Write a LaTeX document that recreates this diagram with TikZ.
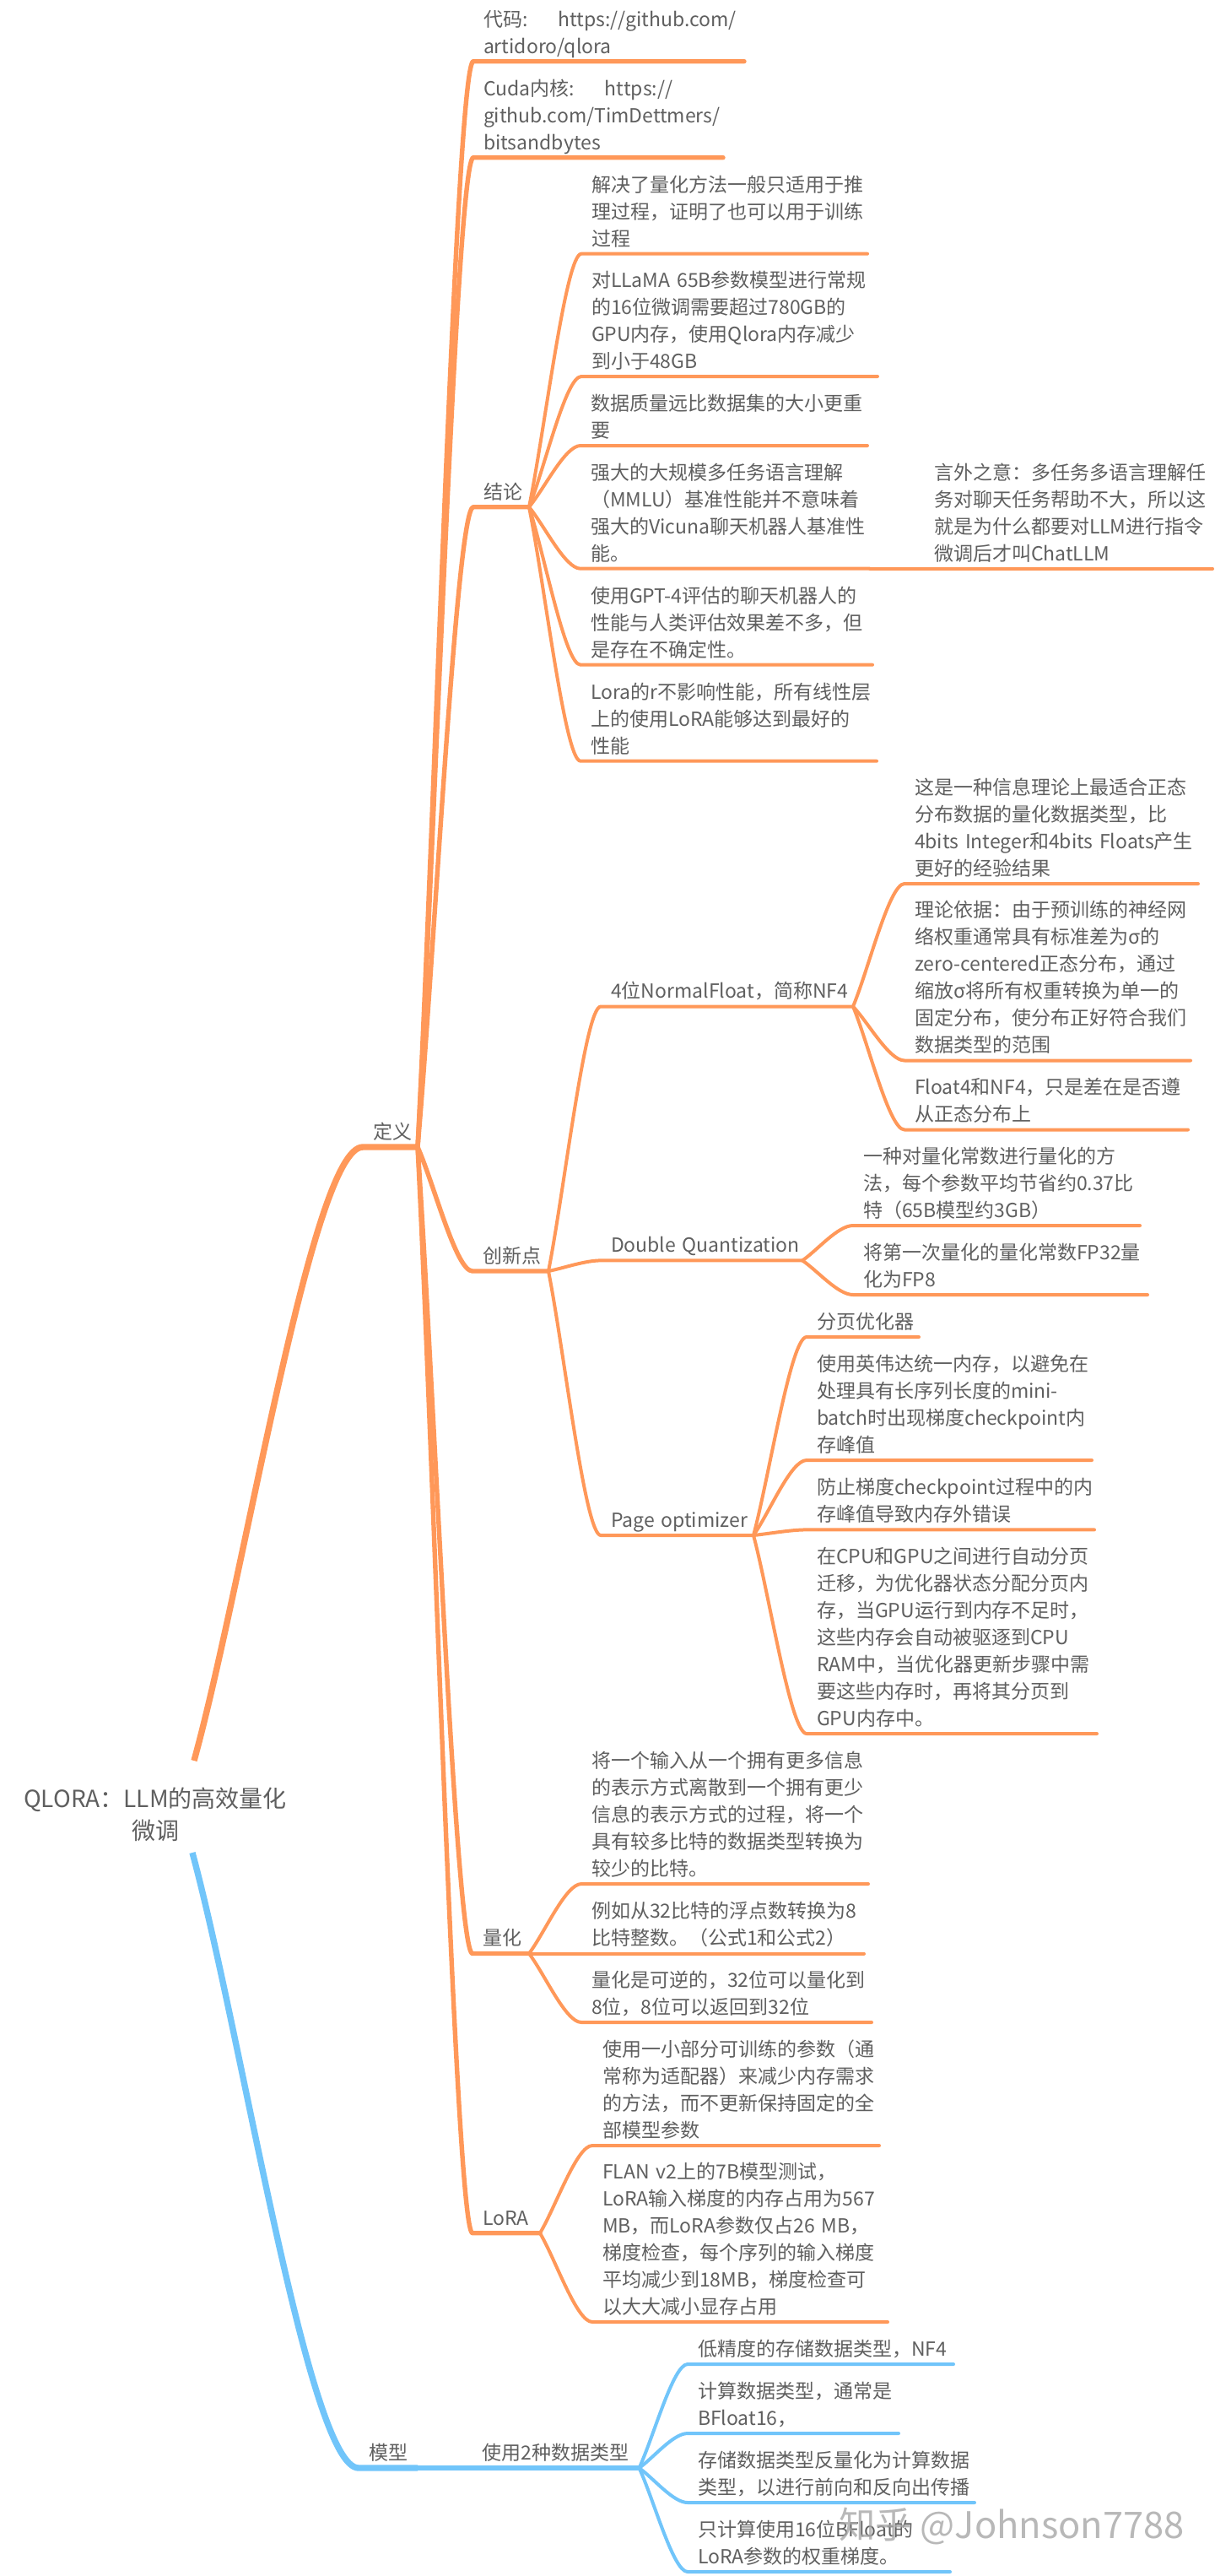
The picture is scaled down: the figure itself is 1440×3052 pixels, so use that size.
\documentclass[tikz,border=0pt]{standalone}
\usepackage{fontspec}
\setmainfont{Noto Sans CJK SC}
\usetikzlibrary{calc}

\definecolor{orangeline}{HTML}{FF9859}
\definecolor{blueline}{HTML}{71C5FA}
\definecolor{inktext}{HTML}{5F5F5F}

\tikzset{
  topic/.style={anchor=south west, inner sep=0pt, outer sep=0pt,
    text=inktext, font=\fontsize{11.5}{16}\selectfont,
    execute at begin node={\leftskip=6pt\rightskip=0pt plus 1fil\relax},
    execute at end node={\strut}},
  fan/.style={to path={let \p1=(\tikztostart),\p2=(\tikztotarget) in
    .. controls ({\x1+0.3*(\x2-\x1)},{\y1+0.3*(\y2-\y1)}) and ({\x1+0.7*(\x2-\x1)},{\y2}) .. (\tikztotarget) \tikztonodes}},
  trunk/.style={line width=3.7pt, line join=round},
  limb/.style={line width=2.7pt, line cap=round, line join=round},
  twig/.style={line width=2pt, line cap=round, line join=round}
}

\begin{document}
\begin{tikzpicture}[x=0.5pt,y=-0.5pt]
\useasboundingbox (0,0) rectangle (1440,3052);

% Root
\node[align=center, inner sep=0pt, text=inktext, font=\fontsize{14}{19}\selectfont] (root) at (184,2150) {QLORA：LLM的高效量化\\微调};
\coordinate (roottop) at (230,2086);
\coordinate (rootbottom) at (228,2195);

% Definition side
\node[topic, text width=32.5pt] (define) at (430,1359) {定义};
\node[topic, text width=160.5pt] (code) at (561,72.7) {代码:\hspace{18pt}https://github.com/\\artidoro/qlora};
\node[topic, text width=148pt] (cuda) at (561,186.7) {Cuda内核:\hspace{18pt}https://\\github.com/TimDettmers/\\bitsandbytes};
\node[topic, text width=33pt] (conclusion) at (561,600.7) {结论};
\node[topic, text width=45pt] (innovate) at (560,1506) {创新点};
\node[topic, text width=33.5pt] (quant) at (560,2314.5) {量化};
\node[topic, text width=40pt] (lora) at (560,2645.7) {LoRA};

% Conclusion leaves
\node[topic, text width=169.5pt] (concA) at (689,300.7) {解决了量化方法一般只适用于推\\理过程，证明了也可以用于训练\\过程};
\node[topic, text width=175.5pt] (concB) at (689,446) {对LLaMA 65B参数模型进行常规\\的16位微调需要超过780GB的\\GPU内存，使用Qlora内存减少\\到小于48GB};
\node[topic, text width=170pt] (concC) at (688,528) {数据质量远比数据集的大小更重\\要};
\node[topic, text width=171.5pt] (concD) at (688,673.7) {强大的大规模多任务语言理解\\（MMLU）基准性能并不意味着\\强大的Vicuna聊天机器人基准性\\能。};
\node[topic, text width=171pt] (hint) at (1095,673.7) {言外之意：多任务多语言理解任\\务对聊天任务帮助不大，所以这\\就是为什么都要对LLM进行指令\\微调后才叫ChatLLM};
\node[topic, text width=173pt] (concE) at (688,787.7) {使用GPT-4评估的聊天机器人的\\性能与人类评估效果差不多，但\\是存在不确定性。};
\node[topic, text width=175.5pt] (concF) at (688,901.7) {Lora的r不影响性能，所有线性层\\上的使用LoRA能够达到最好的\\性能};

% Innovation branches
\node[topic, text width=149.5pt] (nf) at (712,1192.5) {4位NormalFloat，简称NF4};
\node[topic, text width=119.5pt] (dq) at (712,1493.4) {Double Quantization};
\node[topic, text width=90.5pt] (page) at (712,1819) {Page optimizer};

% NF4 leaves
\node[topic, text width=174pt] (nfA) at (1072,1047) {这是一种信息理论上最适合正态\\分布数据的量化数据类型，比\\4bits Integer和4bits Floats产生\\更好的经验结果};
\node[topic, text width=169.5pt] (nfB) at (1072,1256.5) {理论依据：由于预训练的神经网\\络权重通常具有标准差为σ的\\zero-centered正态分布，通过\\缩放σ将所有权重转换为单一的\\固定分布，使分布正好符合我们\\数据类型的范围};
\node[topic, text width=168pt] (nfC) at (1072,1338.5) {Float4和NF4，只是差在是否遵\\从正态分布上};

% Double quantization leaves
\node[topic, text width=170pt] (dqA) at (1011,1452) {一种对量化常数进行量化的方\\法，每个参数平均节省约0.37比\\特（65B模型约3GB）};
\node[topic, text width=174.5pt] (dqB) at (1011,1534) {将第一次量化的量化常数FP32量\\化为FP8};

% Page optimizer leaves
\node[topic, text width=66.5pt] (pageA) at (956,1584) {分页优化器};
\node[topic, text width=169pt] (pageB) at (956,1730) {使用英伟达统一内存，以避免在\\处理具有长序列长度的mini-\\batch时出现梯度checkpoint内\\存峰值};
\node[topic, text width=170.5pt] (pageC) at (956,1812.4) {防止梯度checkpoint过程中的内\\存峰值导致内存外错误};
\node[topic, text width=172pt] (pageD) at (956,2054) {在CPU和GPU之间进行自动分页\\迁移，为优化器状态分配分页内\\存，当GPU运行到内存不足时，\\这些内存会自动被驱逐到CPU\\RAM中，当优化器更新步骤中需\\要这些内存时，再将其分页到\\GPU内存中。};

% Quantization leaves
\node[topic, text width=170pt] (quantA) at (689,2232) {将一个输入从一个拥有更多信息\\的表示方式离散到一个拥有更少\\信息的表示方式的过程，将一个\\具有较多比特的数据类型转换为\\较少的比特。};
\node[topic, text width=167.5pt] (quantB) at (689,2314.5) {例如从32比特的浮点数转换为8\\比特整数。（公式1和公式2）};
\node[topic, text width=172pt] (quantC) at (689,2396) {量化是可逆的，32位可以量化到\\8位，8位可以返回到32位};

% LoRA leaves
\node[topic, text width=170pt] (loraA) at (702,2542) {使用一小部分可训练的参数（通\\常称为适配器）来减少内存需求\\的方法，而不更新保持固定的全\\部模型参数};
\node[topic, text width=175pt] (loraB) at (702,2751) {FLAN v2上的7B模型测试，\\LoRA输入梯度的内存占用为567\\MB，而LoRA参数仅占26 MB，\\梯度检查，每个序列的输入梯度\\平均减少到18MB，梯度检查可\\以大大减小显存占用};

% Model side
\node[topic, text width=35pt] (model) at (425,2924) {模型};
\node[topic, text width=99pt] (datatype) at (559.5,2924) {使用2种数据类型};
\node[topic, text width=157.5pt] (typeA) at (815,2801) {低精度的存储数据类型，NF4};
\node[topic, text width=125pt] (typeB) at (815,2883) {计算数据类型，通常是\\BFloat16，};
\node[topic, text width=170pt] (typeC) at (815,2965) {存储数据类型反量化为计算数据\\类型，以进行前向和反向出传播};
\node[topic, text width=155.5pt] (typeD) at (815,3047) {只计算使用16位BFloat的\\LoRA参数的权重梯度。};

% Watermark
\node[inner sep=0pt, text=black!35, opacity=0.8, font=\fontsize{21.7}{22}\selectfont] (mark) at (1199,2993) {知乎 @Johnson7788};

% Orange connectors
\draw[trunk, orangeline] (roottop) to[fan] (define.south west) -- (define.south east);
\foreach \kid in {code,cuda,conclusion,innovate,quant,lora}
  \draw[limb, orangeline] (define.south east) to[fan] (\kid.south west) -- (\kid.south east);
\foreach \kid in {concA,concB,concC,concD,concE,concF}
  \draw[twig, orangeline] (conclusion.south east) to[fan] (\kid.south west) -- (\kid.south east);
\draw[twig, orangeline] (concD.south east) -- (hint.south west) -- (hint.south east);
\foreach \kid in {nf,dq,page}
  \draw[twig, orangeline] (innovate.south east) to[fan] (\kid.south west) -- (\kid.south east);
\foreach \kid in {nfA,nfB,nfC}
  \draw[twig, orangeline] (nf.south east) to[fan] (\kid.south west) -- (\kid.south east);
\foreach \kid in {dqA,dqB}
  \draw[twig, orangeline] (dq.south east) to[fan] (\kid.south west) -- (\kid.south east);
\foreach \kid in {pageA,pageB,pageC,pageD}
  \draw[twig, orangeline] (page.south east) to[fan] (\kid.south west) -- (\kid.south east);
\foreach \kid in {quantA,quantB,quantC}
  \draw[twig, orangeline] (quant.south east) to[fan] (\kid.south west) -- (\kid.south east);
\foreach \kid in {loraA,loraB}
  \draw[twig, orangeline] (lora.south east) to[fan] (\kid.south west) -- (\kid.south east);

% Blue connectors
\draw[trunk, blueline] (rootbottom) to[fan] (model.south west) -- (model.south east);
\draw[limb, blueline] (model.south east) -- (datatype.south west) -- (datatype.south east);
\foreach \kid in {typeA,typeB,typeC,typeD}
  \draw[twig, blueline] (datatype.south east) to[fan] (\kid.south west) -- (\kid.south east);

\end{tikzpicture}
\end{document}
